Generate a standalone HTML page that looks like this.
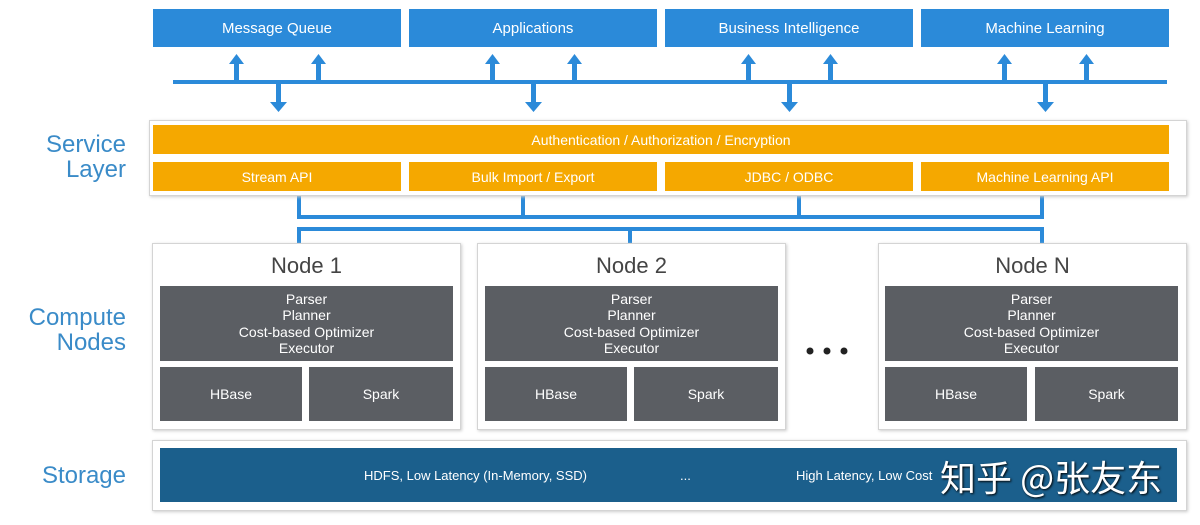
<!DOCTYPE html>
<html><head><meta charset="utf-8"><style>
body{margin:0;width:1200px;height:525px;background:#fff;position:relative;overflow:hidden;font-family:"Liberation Sans","Noto Sans CJK SC",sans-serif}
.a{position:absolute;display:flex;align-items:center;justify-content:center;box-sizing:border-box;text-align:center}
.b{background:#2b8ad9;color:#fff;font-size:15px}
.o{background:#f5a800;color:#fff;font-size:14px}
.g{background:#5b5e63;color:#fff;font-size:14px}
.box{position:absolute;border:1px solid #d4d4d4;box-shadow:1px 1px 3px #ccc;background:#fff;box-sizing:border-box}
.lab{position:absolute;color:#3a8bc8;font-size:24px;text-align:right;width:126px;left:0;line-height:25px}
.nt{position:absolute;font-size:22px;color:#444;text-align:center}
</style></head><body>
<div class="a b" style="left:153px;top:9px;width:248px;height:38px">Message Queue</div>
<div class="a b" style="left:409px;top:9px;width:248px;height:38px">Applications</div>
<div class="a b" style="left:665px;top:9px;width:248px;height:38px">Business Intelligence</div>
<div class="a b" style="left:921px;top:9px;width:248px;height:38px">Machine Learning</div>
<svg width="1200" height="525" style="position:absolute;left:0;top:0">
<g fill="#2b8ad9">
<rect x="173" y="80" width="994" height="4"/>
<g id="u"><rect x="234" y="62" width="5" height="20"/><polygon points="229,64 236.5,54 244,64"/></g>
<use href="#u" x="82"/><use href="#u" x="256"/><use href="#u" x="338"/>
<use href="#u" x="512"/><use href="#u" x="594"/><use href="#u" x="768"/><use href="#u" x="850"/>
<g id="d"><rect x="276" y="82" width="5" height="22"/><polygon points="270,102 278.5,112 287,102"/></g>
<use href="#d" x="255"/><use href="#d" x="511"/><use href="#d" x="767"/>
<rect x="297" y="195" width="4" height="24"/><rect x="521" y="195" width="4" height="22"/><rect x="797" y="195" width="4" height="22"/><rect x="1040" y="195" width="4" height="24"/>
<rect x="297" y="215" width="747" height="4"/>
<rect x="297" y="227" width="747" height="4"/>
<rect x="297" y="227" width="4" height="17"/><rect x="628" y="227" width="4" height="17"/><rect x="1040" y="227" width="4" height="17"/>
<circle cx="810" cy="351" r="3.5" fill="#222"/><circle cx="827" cy="351" r="3.5" fill="#222"/><circle cx="844" cy="351" r="3.5" fill="#222"/>
</g></svg>
<div class="lab" style="top:132px">Service<br>Layer</div>
<div class="lab" style="top:305px">Compute<br>Nodes</div>
<div class="lab" style="top:463px">Storage</div>
<div class="box" style="left:149px;top:120px;width:1038px;height:76px"></div>
<div class="a o" style="left:153px;top:125px;width:1016px;height:29px">Authentication / Authorization / Encryption</div>
<div class="a o" style="left:153px;top:162px;width:248px;height:29px">Stream API</div>
<div class="a o" style="left:409px;top:162px;width:248px;height:29px">Bulk Import / Export</div>
<div class="a o" style="left:665px;top:162px;width:248px;height:29px">JDBC / ODBC</div>
<div class="a o" style="left:921px;top:162px;width:248px;height:29px">Machine Learning API</div>

<div class="box" style="left:152px;top:243px;width:309px;height:187px"></div>
<div class="nt" style="left:152px;top:253px;width:309px">Node 1</div>
<div class="a g" style="left:160px;top:286px;width:293px;height:75px;line-height:16.5px">Parser<br>Planner<br>Cost-based Optimizer<br>Executor</div>
<div class="a g" style="left:160px;top:367px;width:142px;height:54px">HBase</div>
<div class="a g" style="left:309px;top:367px;width:144px;height:54px">Spark</div>

<div class="box" style="left:477px;top:243px;width:309px;height:187px"></div>
<div class="nt" style="left:477px;top:253px;width:309px">Node 2</div>
<div class="a g" style="left:485px;top:286px;width:293px;height:75px;line-height:16.5px">Parser<br>Planner<br>Cost-based Optimizer<br>Executor</div>
<div class="a g" style="left:485px;top:367px;width:142px;height:54px">HBase</div>
<div class="a g" style="left:634px;top:367px;width:144px;height:54px">Spark</div>

<div class="box" style="left:878px;top:243px;width:309px;height:187px"></div>
<div class="nt" style="left:878px;top:253px;width:309px">Node N</div>
<div class="a g" style="left:885px;top:286px;width:293px;height:75px;line-height:16.5px">Parser<br>Planner<br>Cost-based Optimizer<br>Executor</div>
<div class="a g" style="left:885px;top:367px;width:142px;height:54px">HBase</div>
<div class="a g" style="left:1035px;top:367px;width:143px;height:54px">Spark</div>

<div class="box" style="left:152px;top:440px;width:1035px;height:71px"></div>
<div style="position:absolute;left:160px;top:448px;width:1017px;height:54px;background:#1b5f8c"></div>
<div style="position:absolute;left:364px;top:468px;color:#fff;font-size:13px">HDFS, Low Latency (In-Memory, SSD)</div>
<div style="position:absolute;left:680px;top:468px;color:#fff;font-size:13px">...</div>
<div style="position:absolute;left:796px;top:468px;color:#fff;font-size:13px">High Latency, Low Cost</div>
<div style="position:absolute;left:940px;top:450px;color:#fff;font-size:36px;font-family:'Noto Sans CJK SC',sans-serif;text-shadow:1px 1px 2px #000;white-space:nowrap">知乎 @张友东</div>
</body></html>
